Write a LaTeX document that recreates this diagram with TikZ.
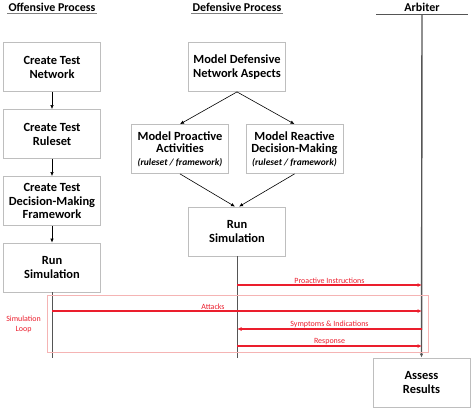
\documentclass[tikz,border=0pt]{standalone}
\usepackage{fontspec}
\setmainfont{Carlito}
\usetikzlibrary{arrows.meta}
\definecolor{boxgray}{RGB}{190,190,190}
\definecolor{simred}{RGB}{235,30,45}
\definecolor{looppink}{RGB}{245,180,180}
\definecolor{lifegray}{RGB}{85,85,85}
\newcommand{\frameworkNote}{\\{\fontsize{9.5}{11}\selectfont\itshape (ruleset / framework)}}
\tikzset{
  procbox/.style={draw=boxgray, line width=0.8bp, fill=white, minimum width=97bp, minimum height=49bp,
    align=center, inner sep=1bp, font=\fontsize{12.5}{14}\selectfont\bfseries},
  header/.style={font=\fontsize{12}{13}\selectfont\bfseries, inner sep=1bp},
  lifeline/.style={draw=lifegray, line width=0.7bp},
  flow/.style={-{Latex[length=4bp,width=3.5bp]}, line width=0.6bp},
  msg/.style={color=simred, line width=1.3bp, -{Latex[length=4.5bp,width=4bp]}},
  msglabel/.style={font=\fontsize{8}{9}\selectfont, text=simred, above, inner sep=1.5bp}
}
\begin{document}
\begin{tikzpicture}[x=1bp,y=-1bp]
 \useasboundingbox (0,0) rectangle (474,408);
 % column headers
 \node[header] (hoff) at (52,7.5) {Offensive Process};
 \node[header] (hdef) at (237,7.5) {Defensive Process};
 \node[header] (harb) at (422,7.5) {Arbiter};
 \draw[gray] (hoff.south west) -- (hoff.south east);
 \draw[gray] (hdef.south west) -- (hdef.south east);
 \draw[lifegray, line width=1.2bp] (376,14.5) -- (468,14.5);
 \coordinate (arbtop) at (422,14.5);
 % offensive process
 \node[procbox] (net)   at (52,67)    {Create Test\\Network};
 \node[procbox] (rules) at (52,134)   {Create Test\\Ruleset};
 \node[procbox] (frame) at (52,201)   {Create Test\\Decision-Making\\Framework};
 \node[procbox] (osim)  at (52,267.5) {Run\\Simulation};
 % defensive process
 \node[procbox] (aspects) at (237,67) {Model Defensive\\Network Aspects};
 \node[procbox, font=\fontsize{12.5}{12.5}\selectfont\bfseries] (proact) at (180,149) {Model Proactive\\Activities\frameworkNote};
 \node[procbox, font=\fontsize{12.5}{12.5}\selectfont\bfseries] (react) at (294.5,149) {Model Reactive\\Decision-Making\frameworkNote};
 \node[procbox] (dsim) at (237,231.5) {Run\\Simulation};
 % arbiter
 \node[procbox] (assess) at (421.5,382.5) {Assess\\Results};
 \path[flow]
   (net) edge (rules)
   (rules) edge (frame)
   (frame) edge (osim)
   (aspects.south) edge (proact.north)
   (aspects.south) edge (react.north)
   (proact.south) edge ([xshift=-2bp]dsim.north)
   (react.south) edge ([xshift=2bp]dsim.north);
 % lifelines
 \coordinate (oend) at (52,358);
 \coordinate (dend) at (237,358);
 \draw[lifeline] (osim.south) -- (oend);
 \draw[lifeline] (dsim.south) -- (dend);
 \draw[lifegray, line width=1.4bp, -{Latex[length=4bp,width=3.5bp]}] (arbtop) -- (assess.north);
 % simulation loop
 \draw[looppink, line width=0.7bp] (47,295) rectangle (428,352);
 \node[font=\fontsize{8}{10}\selectfont, text=simred, align=center] (looplabel) at (23.5,324) {Simulation\\Loop};
 \draw[msg] (dsim.south |- 0,285) -- (arbtop |- 0,285);
 \draw[msg] (osim.south |- 0,311) -- (arbtop |- 0,311);
 \draw[msg] (arbtop |- 0,329) -- (dsim.south |- 0,329);
 \draw[msg] (dsim.south |- 0,346) -- (arbtop |- 0,346);
 \path (dsim.south |- 0,285) -- node[msglabel] {Proactive Instructions} (arbtop |- 0,285);
 \path (osim.south |- 0,311) -- node[msglabel, pos=0.435] {Attacks} (arbtop |- 0,311);
 \path (arbtop |- 0,329) -- node[msglabel] {Symptoms \& Indications} (dsim.south |- 0,329);
 \path (dsim.south |- 0,346) -- node[msglabel] {Response} (arbtop |- 0,346);
\end{tikzpicture}
\end{document}
